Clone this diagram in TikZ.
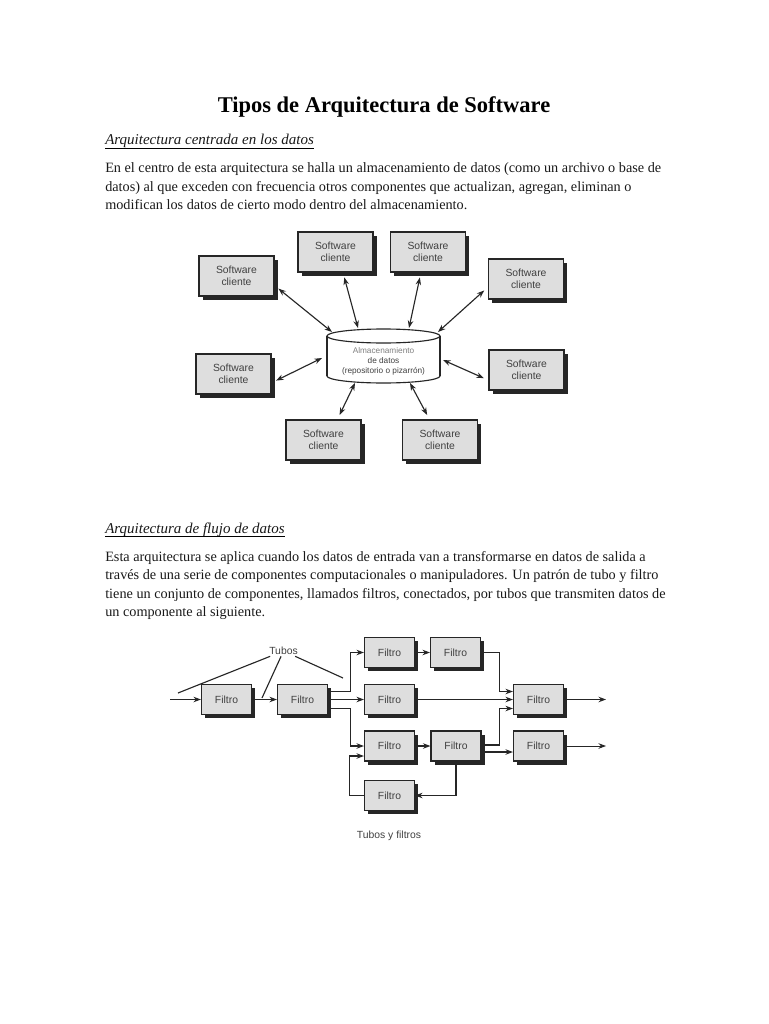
\documentclass[tikz,border=0pt]{standalone}
\usepackage{fontspec}
\setmainfont{Liberation Serif}
\setsansfont{Liberation Sans}
\usetikzlibrary{arrows.meta, positioning, calc, shadows}

\begin{document}
\begin{tikzpicture}[x=0.8pt, y=-0.8pt,
    texto/.style={anchor=base west, inner sep=0pt, font=\fontsize{11.4}{14}\selectfont, text=black!90},
    titulo/.style={texto, font=\itshape\fontsize{12}{14}\selectfont},
    caja/.style={draw=black!85, fill=black!13, line width=0.9pt, inner sep=0pt, align=center,
        font=\sffamily\fontsize{8.3}{10}\selectfont, text=black!75,
        drop shadow={shadow xshift=2.8pt, shadow yshift=-2.8pt, fill=black!85, opacity=1}},
    cliente/.style={caja, minimum width=60pt, minimum height=32pt},
    filtro/.style={caja, minimum width=40pt, minimum height=24pt},
    flecha/.style={{Stealth[length=6pt,width=4.4pt]}-{Stealth[length=6pt,width=4.4pt]}, line width=0.9pt, draw=black!85},
    tubo/.style={-{Stealth[length=6pt,width=4.4pt]}, line width=0.9pt, draw=black!85},
    rotulo/.style={font=\sffamily\fontsize{8.3}{10}\selectfont, text=black!75}
]
\useasboundingbox (0,0) rectangle (768,1024);
\fill[white] (0,0) rectangle (768,1024);

% Title and first section
\node[font=\bfseries\fontsize{18}{21}\selectfont, anchor=base] (titulo) at (384,113) {Tipos de Arquitectura de Software};
\node[titulo] (sec1) at (105,145) {Arquitectura centrada en los datos};
\draw[line width=0.6pt] ($(sec1.base west)+(0,3)$) -- ($(sec1.base east)+(0,3)$);
\node[texto] (p11) at (105,173) {En el centro de esta arquitectura se halla un almacenamiento de datos (como un archivo o base de};
\node[texto] (p12) at (105,192) {datos) al que exceden con frecuencia otros componentes que actualizan, agregan, eliminan o};
\node[texto] (p13) at (105,210) {modifican los datos de cierto modo dentro del almacenamiento.};

% Data store (cylinder)
\draw[line width=0.9pt, draw=black!85, fill=white] (383.5,376) ellipse [x radius=45.2pt, y radius=5.6pt];
\fill[white] (327,336) rectangle (440,376);
\draw[line width=0.9pt, black!85] (327,336) -- (327,376) (440,336) -- (440,376);
\draw[line width=0.9pt, draw=black!85, fill=white] (383.5,336) ellipse [x radius=45.2pt, y radius=5.6pt];
\node[inner sep=0pt, align=center, font=\sffamily\fontsize{6.6}{8}\selectfont, text=black!75] (alm) at (383.5,361)
    {\textcolor{black!50}{Almacenamiento}\\de datos\\(repositorio o pizarrón)};

% Client software boxes
\foreach \n/\x/\y in {c1/236.5/276, c2/335.5/252, c3/428/252, c4/526/279,
    c5/233.5/374, c6/526.5/370, c7/323.5/440, c8/440/440}
    \node[cliente] (\n) at (\x,\y) {Software\\cliente};

% Contact points on the store
\foreach \p/\x/\y in {p1/332/332, p2/358/328, p3/409/328, p4/438/332,
    p5/322/358, p6/443/360, p7/355/383, p8/410/383}
    \coordinate (\p) at (\x,\y);

\foreach \c/\a/\p in {c1/-14/p1, c2/-70/p2, c3/-109/p3, c4/192/p4,
    c5/-13/p5, c6/195/p6, c7/56/p7, c8/117/p8}
    \draw[flecha, shorten <=4pt] (\c.\a) -- (\p);

% Second section
\node[titulo] (sec2) at (105,533) {Arquitectura de flujo de datos};
\draw[line width=0.6pt] ($(sec2.base west)+(0,3)$) -- ($(sec2.base east)+(0,3)$);
\node[texto] (p21) at (105,561) {Esta arquitectura se aplica cuando los datos de entrada van a transformarse en datos de salida a};
\node[texto] (p22) at (105,579.5) {través de una serie de componentes computacionales o manipuladores. Un patrón de tubo y filtro};
\node[texto] (p23) at (105,598) {tiene un conjunto de componentes, llamados filtros, conectados, por tubos que transmiten datos de};
\node[texto] (p24) at (105,616.5) {un componente al siguiente.};

% Filters
\foreach \n/\x/\y in {f1/226.5/699.5, f2/302.5/699.5, f3/389.5/652.5, f4/455.5/652.5,
    f5/389.5/699.5, f6/538.5/699.5, f7/389.5/746, f8/456/746, f9/538.5/746, f10/389.5/795.5}
    \node[filtro] (\n) at (\x,\y) {Filtro};

\coordinate (ent) at (170,699.5);
\coordinate (sal1) at (606,699.5);
\coordinate (sal2) at (606,746);

% Pipes
\draw[tubo] (ent) -- (f1);
\draw[tubo] (f1) -- (f2);
\draw[tubo] ($(f2.east)+(0,-8)$) -- ++(22.5,0) |- (f3);
\draw[tubo] (f2) -- (f5);
\draw[tubo] ($(f2.east)+(0,9)$) -- ++(22.5,0) |- (f7);
\draw[tubo] (f3) -- (f4);
\draw[tubo] (f4.east) -- ++(18.5,0) |- ($(f6.west)+(0,-8)$);
\draw[tubo] (f5) -- (f6);
\draw[tubo] ($(f8.east)+(0,-1)$) -- ++(18,0) |- ($(f6.west)+(0,9)$);
\draw[tubo] (f7) -- (f8);
\draw[tubo] ($(f8.east)+(0,6)$) -- ($(f9.west)+(0,6)$);
\draw[tubo] (f8) |- (f10);
\draw[tubo] (f10.west) -- ++(-14.5,0) |- ($(f7.west)+(0,10)$);
\draw[tubo] (f6) -- (sal1);
\draw[tubo, line width=0.6pt] (f9) -- (sal2);

% Label for the pipes
\node[rotulo, inner sep=1pt] (tubos) at (283.5,651) {Tubos};
\coordinate (t1) at (178,693);
\coordinate (t2) at (262,698);
\coordinate (t3) at (343,678);
\foreach \t in {t1,t2,t3}
    \draw[line width=0.9pt, black!85] (tubos) -- (\t);

\node[rotulo] (pie) at (389,836) {Tubos y filtros};
\end{tikzpicture}
\end{document}
